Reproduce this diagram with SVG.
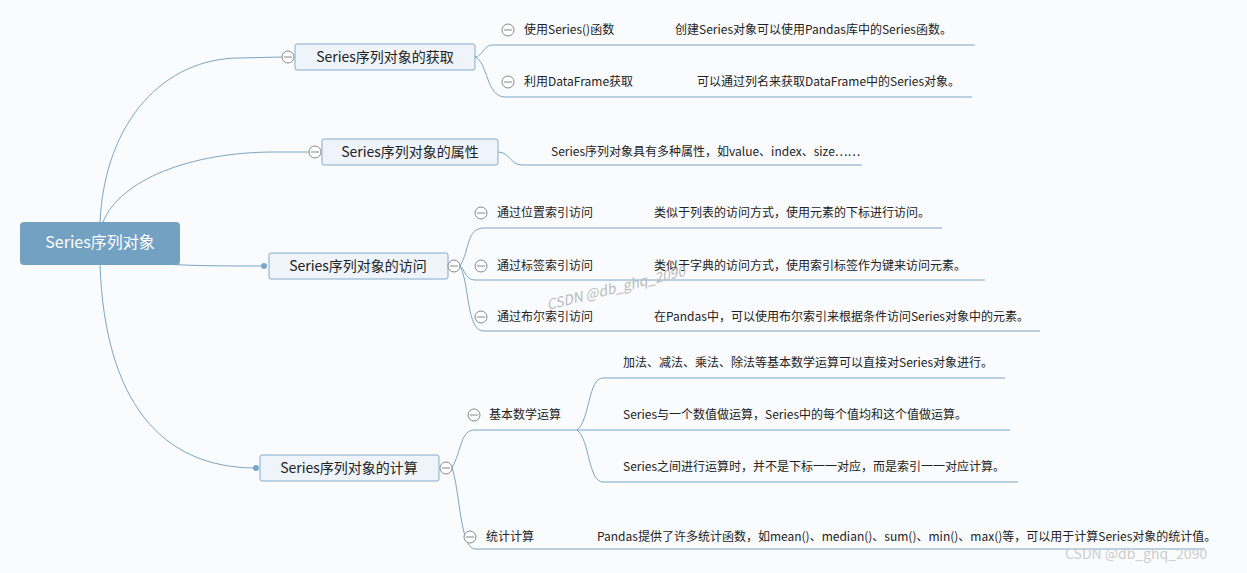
<svg xmlns="http://www.w3.org/2000/svg" width="1247" height="573" viewBox="0 0 1247 573">
<style>
text{font-family:"Microsoft YaHei","Noto Sans CJK SC",sans-serif;fill:#222}
.n rect{fill:#eef4f9;stroke:#84aacb;stroke-width:1}
.n text{font-size:14px;text-anchor:middle}
.l{font-size:12px}
.c path{fill:none;stroke:#7aa6c6;stroke-width:1}
.t circle{fill:#fff;stroke:#888;stroke-width:1}
.t line{stroke:#888;stroke-width:1}
.d{fill:#7aa6c6}
</style>
<rect width="1247" height="573" fill="#fafbfc"/>
<g class="c">
<path d="M100,222 C105,120 165,58 240,58 L282,57"/>
<path d="M103,222 C120,180 190,152 275,152 L309,152"/>
<path d="M146,263 C190,266 220,266 264,266"/>
<path d="M100,265 C105,400 160,468 256,468"/>
<path d="M475,57 C482,57 484,45 492,45 L975,45"/>
<path d="M475,57 C488,62 486,97 505,97 L972,97"/>
<path d="M498,152 C510,152 510,165 522,165 L862,165"/>
<path d="M460,266 C470,250 466,228 484,228 L942,228"/>
<path d="M460,266 C465,270 466,280 475,280 L985,280"/>
<path d="M460,266 C470,285 466,331 484,331 L1040,331"/>
<path d="M452,468 C462,450 460,430 475,430 L577,430"/>
<path d="M452,468 C460,490 460,549 475,549 L1205,549"/>
<path d="M577,430 C590,420 588,378 603,378 L1005,378"/>
<path d="M577,430 L1010,430"/>
<path d="M577,430 C590,440 588,482 603,482 L1018,482"/>
</g>
<g id="root"><rect x="20" y="222" width="160" height="43" rx="4" fill="#73a1c2"/><text x="100" y="248" font-size="16" text-anchor="middle" style="fill:#fff">Series序列对象</text></g>
<g id="n1" class="n"><rect x="295" y="44" width="180" height="26" rx="2"/><text x="385" y="62">Series序列对象的获取</text></g>
<g id="n2" class="n"><rect x="322" y="139" width="176" height="26" rx="2"/><text x="410" y="157">Series序列对象的属性</text></g>
<g id="n3" class="n"><rect x="269" y="253" width="179" height="26" rx="2"/><text x="358" y="271">Series序列对象的访问</text></g>
<g id="n4" class="n"><rect x="260" y="455" width="179" height="26" rx="2"/><text x="349" y="473">Series序列对象的计算</text></g>
<g class="t">
<circle cx="288" cy="57" r="6"/><line x1="284" y1="57" x2="292" y2="57"/>
<circle cx="315" cy="152" r="6"/><line x1="311" y1="152" x2="319" y2="152"/>
<circle cx="454" cy="266" r="6"/><line x1="450" y1="266" x2="458" y2="266"/>
<circle cx="446" cy="468" r="6"/><line x1="442" y1="468" x2="450" y2="468"/>
<circle cx="508" cy="30" r="6"/><line x1="504" y1="30" x2="512" y2="30"/>
<circle cx="508" cy="82" r="6"/><line x1="504" y1="82" x2="512" y2="82"/>
<circle cx="481" cy="213" r="6"/><line x1="477" y1="213" x2="485" y2="213"/>
<circle cx="481" cy="266" r="6"/><line x1="477" y1="266" x2="485" y2="266"/>
<circle cx="481" cy="317" r="6"/><line x1="477" y1="317" x2="485" y2="317"/>
<circle cx="474" cy="415" r="6"/><line x1="470" y1="415" x2="478" y2="415"/>
<circle cx="470" cy="537" r="6"/><line x1="466" y1="537" x2="474" y2="537"/>
</g>
<circle class="d" cx="264" cy="266" r="3"/><circle class="d" cx="256" cy="468" r="3"/>
<g id="leaves">
<text class="l" x="524" y="34">使用Series()函数</text>
<text class="l" x="675" y="34">创建Series对象可以使用Pandas库中的Series函数。</text>
<text class="l" x="524" y="86">利用DataFrame获取</text>
<text class="l" x="697" y="86">可以通过列名来获取DataFrame中的Series对象。</text>
<text class="l" x="551" y="156">Series序列对象具有多种属性，如value、index、size……</text>
<text class="l" x="497" y="217">通过位置索引访问</text>
<text class="l" x="654" y="217">类似于列表的访问方式，使用元素的下标进行访问。</text>
<text class="l" x="497" y="270">通过标签索引访问</text>
<text class="l" x="654" y="270">类似于字典的访问方式，使用索引标签作为键来访问元素。</text>
<text class="l" x="497" y="321">通过布尔索引访问</text>
<text class="l" x="654" y="321">在Pandas中，可以使用布尔索引来根据条件访问Series对象中的元素。</text>
<text class="l" x="489" y="419">基本数学运算</text>
<text class="l" x="623" y="367">加法、减法、乘法、除法等基本数学运算可以直接对Series对象进行。</text>
<text class="l" x="623" y="419">Series与一个数值做运算，Series中的每个值均和这个值做运算。</text>
<text class="l" x="623" y="471">Series之间进行运算时，并不是下标一一对应，而是索引一一对应计算。</text>
<text class="l" x="486" y="541">统计计算</text>
<text class="l" x="597" y="541">Pandas提供了许多统计函数，如mean()、median()、sum()、min()、max()等，可以用于计算Series对象的统计值。</text>
</g>
<text x="548" y="310" font-size="14" font-style="italic" transform="rotate(-14 548 310)" style="fill:#bbb">CSDN @db_ghq_2090</text>
<text x="1065" y="559" font-size="14" style="fill:#ccc">CSDN @db_ghq_2090</text>
</svg>
